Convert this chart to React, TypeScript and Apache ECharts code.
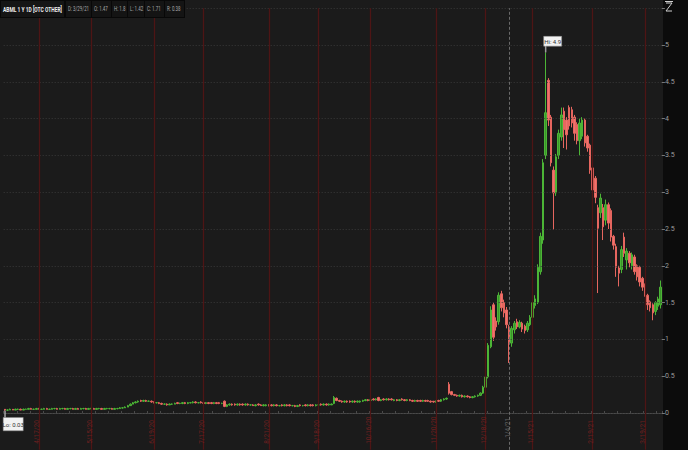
import React, { useEffect, useRef } from "react";
import * as echarts from "echarts";

// ---- categories: NYSE trading days 3/30/20 .. 3/29/21 ----
const holidays = ["2020-04-10", "2020-05-25", "2020-07-03", "2020-09-07", "2020-11-26", "2020-12-25", "2021-01-01", "2021-01-18", "2021-02-15"];
function buildDates(): string[] {
  const out: string[] = [];
  const d = new Date(Date.UTC(2020, 2, 30));
  const end = Date.UTC(2021, 2, 29);
  while (d.getTime() <= end) {
    const wd = d.getUTCDay();
    const s = d.toISOString().slice(0, 10);
    if (wd !== 0 && wd !== 6 && holidays.indexOf(s) < 0) out.push(s);
    d.setUTCDate(d.getUTCDate() + 1);
  }
  return out;
}
const dates = buildDates();

// monthly option-expiration separators and year separator
const expirations = ["2020-04-17", "2020-05-15", "2020-06-19", "2020-07-17", "2020-08-21", "2020-09-18", "2020-10-16", "2020-11-20", "2020-12-18", "2021-01-15", "2021-02-19", "2021-03-19"];
const yearLine = "2021-01-04";

// ---- OHLC values ----
const opens = [
  0.05, 0.04, 0.04, 0.05, 0.04, 0.05, 0.05, 0.04, 0.05, 0.05,
  0.06, 0.05, 0.05, 0.06, 0.05, 0.05, 0.06, 0.05, 0.05, 0.06,
  0.06, 0.05, 0.06, 0.06, 0.05, 0.06, 0.06, 0.05, 0.06, 0.05,
  0.06, 0.06, 0.05, 0.06, 0.06, 0.05, 0.06, 0.06, 0.05, 0.06,
  0.06, 0.06, 0.05, 0.06, 0.06, 0.07, 0.07, 0.08, 0.10, 0.12,
  0.14, 0.15, 0.17, 0.16, 0.17, 0.16, 0.16, 0.15, 0.14, 0.14,
  0.13, 0.12, 0.12, 0.11, 0.12, 0.12, 0.14, 0.13, 0.13, 0.14,
  0.13, 0.14, 0.14, 0.15, 0.14, 0.15, 0.14, 0.13, 0.14, 0.14,
  0.13, 0.14, 0.14, 0.13, 0.16, 0.09, 0.11, 0.12, 0.12, 0.11,
  0.12, 0.12, 0.11, 0.12, 0.11, 0.11, 0.10, 0.12, 0.11, 0.10,
  0.10, 0.11, 0.11, 0.10, 0.11, 0.10, 0.11, 0.10, 0.11, 0.11,
  0.10, 0.10, 0.09, 0.11, 0.10, 0.11, 0.10, 0.11, 0.11, 0.10,
  0.11, 0.12, 0.11, 0.12, 0.11, 0.11, 0.13, 0.20, 0.17, 0.16,
  0.15, 0.16, 0.16, 0.15, 0.16, 0.15, 0.15, 0.16, 0.17, 0.18,
  0.17, 0.19, 0.18, 0.21, 0.17, 0.19, 0.18, 0.19, 0.19, 0.17,
  0.18, 0.17, 0.19, 0.18, 0.17, 0.18, 0.17, 0.16, 0.17, 0.17,
  0.16, 0.17, 0.17, 0.16, 0.16, 0.15, 0.17, 0.16, 0.18, 0.19,
  0.39, 0.29, 0.25, 0.24, 0.23, 0.24, 0.22, 0.23, 0.22, 0.21,
  0.22, 0.23, 0.24, 0.27, 0.35, 0.49, 0.90, 1.47, 1.25, 1.24,
  1.62, 1.50, 1.40, 1.17, 0.95, 1.13, 1.24, 1.17, 1.22, 1.18,
  1.13, 1.20, 1.30, 1.46, 1.50, 1.92, 2.35, 3.50, 4.52, 4.02,
  3.30, 2.99, 3.50, 3.75, 4.10, 3.98, 4.15, 4.12, 4.02, 3.92,
  3.70, 3.76, 3.98, 3.76, 3.64, 3.33, 3.19, 2.79, 2.72, 2.79,
  2.62, 2.83, 2.75, 2.40, 2.26, 1.97, 1.95, 2.39, 2.08, 2.17,
  2.00, 2.12, 2.00, 1.98, 1.83, 1.74, 1.60, 1.51, 1.47, 1.38,
  1.45, 1.47,
];
const closes = [
  0.04, 0.04, 0.05, 0.04, 0.05, 0.05, 0.04, 0.05, 0.05, 0.06,
  0.05, 0.05, 0.06, 0.05, 0.05, 0.06, 0.05, 0.05, 0.06, 0.06,
  0.05, 0.06, 0.06, 0.05, 0.06, 0.06, 0.05, 0.06, 0.05, 0.06,
  0.06, 0.05, 0.06, 0.06, 0.05, 0.06, 0.06, 0.05, 0.06, 0.06,
  0.06, 0.05, 0.06, 0.06, 0.07, 0.07, 0.08, 0.10, 0.12, 0.14,
  0.15, 0.16, 0.16, 0.17, 0.16, 0.16, 0.15, 0.14, 0.14, 0.13,
  0.12, 0.12, 0.11, 0.12, 0.12, 0.13, 0.13, 0.13, 0.14, 0.13,
  0.14, 0.14, 0.15, 0.14, 0.14, 0.14, 0.13, 0.14, 0.13, 0.13,
  0.14, 0.13, 0.13, 0.13, 0.09, 0.11, 0.12, 0.11, 0.11, 0.12,
  0.11, 0.11, 0.12, 0.11, 0.11, 0.10, 0.11, 0.11, 0.10, 0.11,
  0.11, 0.10, 0.10, 0.11, 0.10, 0.10, 0.10, 0.11, 0.10, 0.10,
  0.10, 0.09, 0.10, 0.10, 0.10, 0.10, 0.11, 0.10, 0.10, 0.11,
  0.11, 0.11, 0.12, 0.11, 0.12, 0.12, 0.21, 0.17, 0.16, 0.15,
  0.16, 0.15, 0.15, 0.16, 0.15, 0.16, 0.16, 0.17, 0.18, 0.17,
  0.18, 0.18, 0.19, 0.17, 0.18, 0.18, 0.19, 0.18, 0.18, 0.18,
  0.17, 0.18, 0.18, 0.17, 0.18, 0.17, 0.16, 0.17, 0.16, 0.16,
  0.17, 0.16, 0.16, 0.15, 0.15, 0.16, 0.16, 0.18, 0.19, 0.20,
  0.27, 0.25, 0.24, 0.23, 0.24, 0.22, 0.23, 0.22, 0.21, 0.22,
  0.23, 0.24, 0.27, 0.35, 0.49, 0.92, 1.40, 1.03, 1.17, 1.60,
  1.43, 1.36, 1.20, 0.95, 1.15, 1.22, 1.17, 1.23, 1.14, 1.12,
  1.22, 1.30, 1.50, 1.55, 1.98, 2.40, 3.40, 4.08, 3.98, 3.40,
  2.99, 3.48, 3.80, 4.05, 3.85, 3.78, 3.90, 3.94, 3.80, 3.70,
  3.94, 3.98, 3.67, 3.60, 3.30, 3.03, 2.93, 2.51, 2.92, 2.53,
  2.83, 2.58, 2.39, 2.28, 1.98, 1.90, 2.22, 2.17, 2.20, 2.04,
  2.15, 1.92, 1.85, 1.78, 1.71, 1.63, 1.47, 1.43, 1.36, 1.50,
  1.55, 1.71,
];
const lows = [
  0.03, 0.03, 0.04, 0.04, 0.04, 0.04, 0.04, 0.04, 0.05, 0.05,
  0.05, 0.05, 0.05, 0.05, 0.05, 0.05, 0.05, 0.05, 0.05, 0.05,
  0.05, 0.05, 0.05, 0.05, 0.05, 0.05, 0.05, 0.05, 0.05, 0.05,
  0.05, 0.05, 0.05, 0.05, 0.05, 0.05, 0.05, 0.05, 0.05, 0.05,
  0.05, 0.05, 0.05, 0.05, 0.06, 0.06, 0.07, 0.08, 0.10, 0.12,
  0.13, 0.14, 0.15, 0.15, 0.15, 0.15, 0.14, 0.13, 0.13, 0.12,
  0.11, 0.11, 0.10, 0.11, 0.11, 0.12, 0.12, 0.12, 0.12, 0.12,
  0.12, 0.13, 0.13, 0.13, 0.13, 0.13, 0.12, 0.12, 0.12, 0.12,
  0.12, 0.12, 0.12, 0.12, 0.08, 0.08, 0.10, 0.10, 0.10, 0.10,
  0.10, 0.10, 0.10, 0.10, 0.10, 0.10, 0.09, 0.10, 0.10, 0.09,
  0.09, 0.09, 0.09, 0.09, 0.09, 0.09, 0.09, 0.09, 0.09, 0.09,
  0.09, 0.08, 0.08, 0.09, 0.09, 0.09, 0.09, 0.09, 0.09, 0.09,
  0.10, 0.10, 0.10, 0.10, 0.10, 0.11, 0.12, 0.16, 0.15, 0.14,
  0.14, 0.14, 0.14, 0.14, 0.14, 0.14, 0.14, 0.15, 0.16, 0.16,
  0.16, 0.17, 0.17, 0.16, 0.16, 0.17, 0.17, 0.17, 0.17, 0.16,
  0.16, 0.16, 0.17, 0.16, 0.16, 0.16, 0.15, 0.15, 0.15, 0.15,
  0.15, 0.15, 0.15, 0.14, 0.14, 0.14, 0.15, 0.15, 0.17, 0.18,
  0.25, 0.24, 0.23, 0.22, 0.22, 0.21, 0.21, 0.21, 0.20, 0.20,
  0.21, 0.22, 0.23, 0.26, 0.33, 0.47, 0.88, 0.98, 1.12, 1.20,
  1.38, 1.30, 1.15, 0.68, 0.90, 1.08, 1.14, 1.15, 1.10, 1.08,
  1.10, 1.18, 1.25, 1.42, 1.48, 1.88, 2.30, 3.45, 3.90, 3.35,
  2.49, 2.95, 3.45, 3.70, 3.60, 3.58, 3.85, 3.88, 3.70, 3.65,
  3.50, 3.72, 3.62, 3.55, 3.25, 2.80, 2.85, 1.63, 2.65, 2.35,
  2.55, 2.50, 2.33, 2.22, 1.85, 1.72, 1.90, 2.12, 1.95, 1.98,
  1.95, 1.88, 1.80, 1.72, 1.66, 1.58, 1.40, 1.38, 1.26, 1.33,
  1.40, 1.42,
];
const highs = [
  0.05, 0.05, 0.06, 0.05, 0.06, 0.06, 0.06, 0.06, 0.06, 0.07,
  0.07, 0.06, 0.07, 0.07, 0.06, 0.07, 0.07, 0.06, 0.07, 0.07,
  0.07, 0.07, 0.07, 0.07, 0.07, 0.07, 0.07, 0.07, 0.07, 0.07,
  0.07, 0.07, 0.07, 0.07, 0.07, 0.07, 0.07, 0.07, 0.07, 0.07,
  0.07, 0.07, 0.07, 0.07, 0.08, 0.08, 0.09, 0.11, 0.13, 0.15,
  0.16, 0.17, 0.18, 0.18, 0.18, 0.17, 0.17, 0.16, 0.15, 0.15,
  0.14, 0.13, 0.13, 0.13, 0.13, 0.14, 0.15, 0.14, 0.15, 0.15,
  0.15, 0.15, 0.16, 0.16, 0.15, 0.16, 0.15, 0.15, 0.15, 0.15,
  0.15, 0.15, 0.15, 0.14, 0.17, 0.12, 0.13, 0.13, 0.13, 0.13,
  0.13, 0.13, 0.13, 0.13, 0.12, 0.12, 0.12, 0.13, 0.12, 0.12,
  0.12, 0.12, 0.12, 0.12, 0.12, 0.11, 0.12, 0.12, 0.12, 0.12,
  0.11, 0.11, 0.11, 0.12, 0.11, 0.12, 0.12, 0.12, 0.12, 0.12,
  0.12, 0.13, 0.13, 0.13, 0.13, 0.13, 0.23, 0.21, 0.18, 0.17,
  0.17, 0.17, 0.17, 0.17, 0.17, 0.17, 0.17, 0.18, 0.19, 0.19,
  0.19, 0.20, 0.20, 0.22, 0.19, 0.20, 0.20, 0.20, 0.20, 0.19,
  0.19, 0.19, 0.20, 0.19, 0.19, 0.19, 0.18, 0.18, 0.18, 0.18,
  0.18, 0.18, 0.18, 0.17, 0.16, 0.17, 0.18, 0.19, 0.20, 0.21,
  0.42, 0.30, 0.26, 0.25, 0.25, 0.25, 0.24, 0.24, 0.23, 0.23,
  0.24, 0.25, 0.28, 0.37, 0.51, 0.95, 1.45, 1.50, 1.30, 1.64,
  1.66, 1.54, 1.44, 1.20, 1.18, 1.25, 1.28, 1.26, 1.24, 1.20,
  1.25, 1.33, 1.55, 1.60, 2.02, 2.45, 3.45, 4.90, 4.55, 4.05,
  3.35, 3.52, 3.85, 4.15, 4.15, 4.02, 4.18, 4.16, 4.05, 3.95,
  4.00, 4.02, 4.00, 3.78, 3.66, 3.36, 3.22, 2.83, 2.98, 2.84,
  2.90, 2.86, 2.78, 2.42, 2.30, 2.00, 2.27, 2.45, 2.24, 2.20,
  2.18, 2.15, 2.02, 2.00, 1.85, 1.76, 1.62, 1.53, 1.49, 1.52,
  1.58, 1.80,
];

// header texts
const title = "ABML 1 Y 1D [OTC OTHER]";
const headerFields = ["D: 3/29/21", "O: 1.47", "H: 1.8", "L: 1.42", "C: 1.71", "R: 0.38"];
const lastPrice = 1.71;

const FONT = "Roboto, 'Liberation Sans', sans-serif";

function fmtDate(s: string) {
  const [y, m, d] = s.split("-");
  return `${Number(m)}/${Number(d)}/${y.slice(2)}`;
}

export default function App() {
  const ref = useRef<HTMLDivElement>(null);
  useEffect(() => {
    const chart = echarts.init(ref.current!, null, { renderer: "svg" });
    const candles = dates.map((_, i) => [opens[i], closes[i], lows[i], highs[i]]);
    let hiIdx = 0;
    let loIdx = 0;
    highs.forEach((v, i) => { if (v > highs[hiIdx]) hiIdx = i; });
    lows.forEach((v, i) => { if (v < lows[loIdx]) loIdx = i; });

    const sepLines: any[] = expirations.map((d) => ({
      xAxis: d,
      lineStyle: { color: "#4e1515", width: 1.3, type: "solid" },
      label: {
        show: true,
        position: "insideStartTop",
        formatter: fmtDate(d),
        color: "#6e2020",
        fontSize: 6.5,
        fontFamily: FONT,
        distance: [6, -2],
      },
    }));
    sepLines.push({
      xAxis: yearLine,
      lineStyle: { color: "#6a6a6a", width: 1, type: [3, 2] },
      label: {
        show: true,
        position: "insideStartTop",
        formatter: fmtDate(yearLine),
        color: "#666",
        fontSize: 6.5,
        fontFamily: FONT,
        distance: [12, -2],
      },
    });
    sepLines.push({
      yAxis: lastPrice,
      lineStyle: { opacity: 0 },
      label: {
        show: true,
        position: "end",
        formatter: String(lastPrice),
        backgroundColor: "#3fc43f",
        color: "#0c0c0c",
        fontSize: 6.5,
        fontFamily: FONT,
        padding: [2, 2, 1, 2],
        borderRadius: 1,
        distance: 2,
      },
    });

    const headerGraphics: any[] = [
      { type: "rect", shape: { x: 0, y: 0, width: 185, height: 18 }, style: { fill: "#080808" }, z: 100 },
      { type: "rect", shape: { x: 1, y: 1, width: 63, height: 16 }, style: { fill: "#151515" }, z: 101 },
      {
        type: "text", x: 3, y: 9, scaleX: 0.7, z: 102,
        style: { text: title, fill: "#f0f0f0", font: `bold 7px ${FONT}`, verticalAlign: "middle" },
      },
    ];
    const segX = [66, 92, 112, 128, 145, 165];
    const segW = [25, 19, 15, 16, 19, 19];
    headerFields.forEach((t, k) => {
      headerGraphics.push({ type: "rect", shape: { x: segX[k], y: 1, width: segW[k], height: 16 }, style: { fill: "#141414" }, z: 101 });
      headerGraphics.push({
        type: "text", x: segX[k] + 2, y: 9, scaleX: 0.68, z: 102,
        style: { text: t, fill: "#a8a8a8", font: `6.5px ${FONT}`, verticalAlign: "middle" },
      });
    });

    const option: any = {
      animation: false,
      backgroundColor: "#1b1b1b",
      grid: { left: 3.7, right: 26.1, top: 8.2, bottom: 0.2, containLabel: false },
      xAxis: {
        type: "category",
        data: dates,
        boundaryGap: true,
        offset: -3,
        axisLine: { show: true, lineStyle: { color: "#4a4a4a", width: 1 } },
        axisTick: { show: true, inside: true, length: 2, interval: 4, lineStyle: { color: "#4a4a4a" } },
        axisLabel: { show: false },
        splitLine: { show: false },
      },
      yAxis: {
        type: "value",
        position: "right",
        min: -0.5,
        max: 5.5,
        interval: 0.5,
        z: 5,
        axisLine: { show: false },
        axisTick: { show: true, length: 3, lineStyle: { color: "#777" } },
        axisLabel: {
          color: "#9c9c9c",
          fontSize: 7,
          fontFamily: FONT,
          margin: 3,
          formatter: (v: number) => (v < 0 || v > 5 ? "" : String(v)),
        },
        splitLine: { show: true, lineStyle: { color: "#3a3a3a", type: [1, 2], width: 1 } },
      },
      graphic: [
        { type: "rect", shape: { x: 663, y: 0, width: 25, height: 450 }, style: { fill: "#0c0c0c" }, z: -1 },
        ...headerGraphics,
        {
          type: "polyline", z: 102,
          shape: { points: [[666, 3], [672, 3], [666, 11], [672, 11]] },
          style: { stroke: "#cfcfcf", lineWidth: 1, fill: null },
        },
        {
          type: "line", z: 102,
          shape: { x1: 665, y1: 1.5, x2: 673, y2: 1.5 },
          style: { stroke: "#cfcfcf", lineWidth: 1 },
        },
      ],
      series: [
        {
          type: "candlestick",
          data: candles,
          barWidth: 2,
          itemStyle: {
            color: "#3a952a",
            color0: "#f0736d",
            borderColor: "#4cb536",
            borderColor0: "#e6665f",
            borderWidth: 1,
          },
          markLine: {
            silent: true,
            symbol: "none",
            animation: false,
            data: sepLines,
          },
          markPoint: {
            silent: true,
            animation: false,
            data: [
              {
                coord: [dates[hiIdx], highs[hiIdx]],
                symbol: "path://M0,0H22V11H3V18H2V11H0Z",
                symbolSize: [18, 16],
                symbolOffset: [7, -8],
                itemStyle: { color: "#f2f2f2", borderColor: "#888", borderWidth: 0.5 },
                label: {
                  show: true,
                  position: "inside",
                  offset: [0, -3],
                  formatter: `Hi: ${highs[hiIdx]}`,
                  color: "#333",
                  fontSize: 6,
                  fontFamily: FONT,
                },
              },
              {
                coord: [dates[loIdx], lows[loIdx]],
                symbol: "path://M0,6H22V18H0Z M1.5,6V0H2.5V6Z",
                symbolSize: [20, 20],
                symbolOffset: [8.2, 10],
                itemStyle: { color: "#f2f2f2", borderColor: "#888", borderWidth: 0.5 },
                label: {
                  show: true,
                  position: "inside",
                  offset: [0, 3.3],
                  formatter: `Lo: ${lows[loIdx]}`,
                  color: "#333",
                  fontSize: 6,
                  fontFamily: FONT,
                },
              },
            ],
          },
        },
      ],
    };
    chart.setOption(option);
    return () => chart.dispose();
  }, []);
  return <div ref={ref} style={{ position: "absolute", left: 0, top: 0, width: 688, height: 450 }} />;
}
